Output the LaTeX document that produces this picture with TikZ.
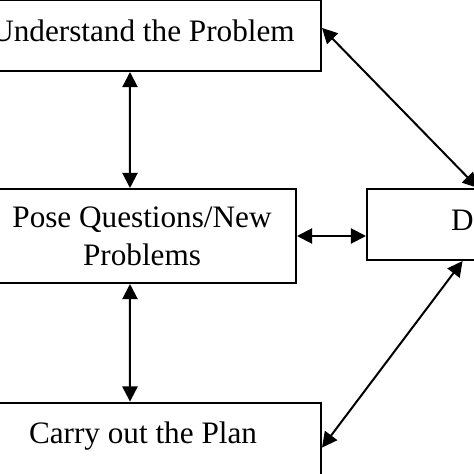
\documentclass[tikz,border=0pt]{standalone}
\usepackage{fontspec}
\setmainfont{Liberation Serif}
\usetikzlibrary{arrows.meta}

\begin{document}
\begin{tikzpicture}[
	every node/.style={font=\fontsize{22.2}{27}\selectfont},
	stepbox/.style={draw=black, line width=0.05cm, inner xsep=0pt, inner ysep=0pt, text height=1.025cm, text depth=0.75cm, anchor=base},
	twoway/.style={line width=0.05cm, {Triangle[length=0.38cm,width=0.38cm]}-{Triangle[length=0.38cm,width=0.38cm]}}
	]
	
	% Fix the visible frame
	\useasboundingbox (0,0) rectangle (11.85,-11.85);
	\clip (0,0) rectangle (11.85,-11.85);
	
	% Draw the boxes
	\node[stepbox, minimum width=8.9cm] (understand) at (3.575,-1.025) {Understand the Problem};
	\node[draw=black, line width=0.05cm, minimum width=7.7cm, minimum height=2.35cm, align=center] (pose) at (3.55,-5.9) {Pose Questions/New\\Problems};
	\node[stepbox, minimum width=8.5cm] (devise) at (13.425,-5.75) {Devise a Plan};
	\node[stepbox, minimum width=8.9cm, text depth=1.5cm] (carry) at (3.575,-11.09) {Carry out the Plan};
	
	% Add arrows between the boxes
	\draw[twoway] ([xshift=-0.325cm]understand.south) -- ([xshift=-0.3cm]pose.north);
	\draw[twoway] ([xshift=-0.3cm]pose.south) -- ([xshift=-0.325cm]carry.north);
	\draw[twoway] (pose.east) -- (pose.east -| devise.west);
	\draw[twoway] ([yshift=0.19cm]understand.east) -- ([xshift=2.8cm]devise.north west);
	\draw[twoway] ([xshift=2.415cm]devise.south west) -- ([yshift=-1.15cm]carry.north east);
\end{tikzpicture}
\end{document}
